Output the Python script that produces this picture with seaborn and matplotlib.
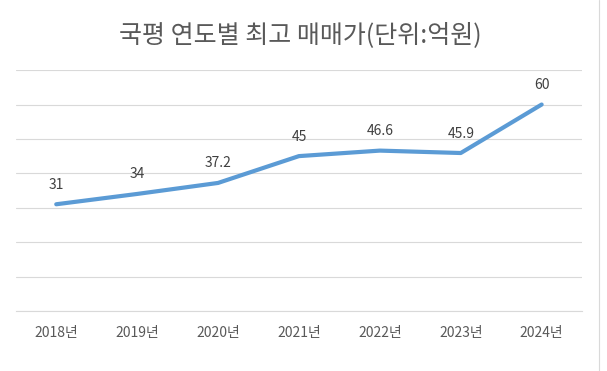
# 국평 연도별 최고 매매가 라인 차트
import pandas as pd
import matplotlib.pyplot as plt
import seaborn as sns
from matplotlib.lines import Line2D

# 데이터
years = ['2018년', '2019년', '2020년', '2021년', '2022년', '2023년', '2024년']
prices = [31, 34, 37.2, 45, 46.6, 45.9, 60]
price_labels = ['31', '34', '37.2', '45', '46.6', '45.9', '60']

df = pd.DataFrame({'year': years, 'price': prices})

# 스타일
sns.set_style('white')
plt.rcParams['font.family'] = ['Noto Sans CJK KR', 'DejaVu Sans']

fig = plt.figure(figsize=(6.07, 3.71), dpi=100)
ax = fig.add_axes([0.026, 0.162, 0.933, 0.649])

sns.lineplot(data=df, x='year', y='price', color='#5B9BD5', linewidth=3,
             sort=False, ax=ax, solid_capstyle='round')

# 데이터 레이블
for i, (v, lab) in enumerate(zip(prices, price_labels)):
    ax.annotate(lab, (i, v), xytext=(0, 9), textcoords='offset points',
                ha='center', va='bottom', fontsize=10, color='#404040')

ax.set_ylim(0, 70)
ax.set_yticks(range(0, 71, 10))
ax.set_yticklabels([])
ax.set_xlim(-0.5, 6.5)
ax.grid(axis='y', color='#D9D9D9', linewidth=0.8)
ax.set_axisbelow(True)
for s in ['top', 'right', 'left']:
    ax.spines[s].set_visible(False)
ax.spines['bottom'].set_color('#D9D9D9')
ax.spines['bottom'].set_linewidth(0.8)
ax.tick_params(axis='y', length=0)
ax.tick_params(axis='x', length=0, pad=11, labelsize=10, labelcolor='#595959')
ax.set_xlabel('')
ax.set_ylabel('')

fig.suptitle('국평 연도별 최고 매매가(단위:억원)', x=0.494, y=0.94, fontsize=18,
             color='#595959')

# 오른쪽 경계선
fig.add_artist(Line2D([0.987, 0.987], [0, 1], color='#D9D9D9', linewidth=0.8,
                      transform=fig.transFigure))

plt.savefig('out.png', dpi=100)
plt.close()
